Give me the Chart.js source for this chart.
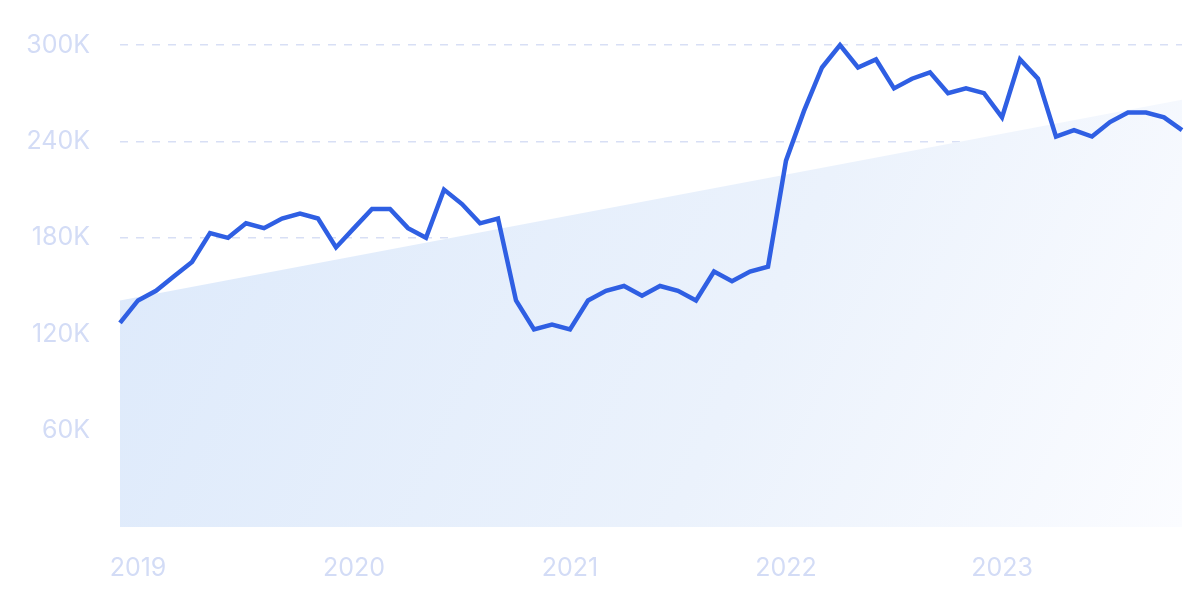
<!DOCTYPE html>
<html lang="en">
<head>
<meta charset="UTF-8">
<style>
  html, body { margin: 0; padding: 0; background: #fff; }
  #wrap { width: 1200px; height: 599px; }
</style>
<script src="https://cdn.jsdelivr.net/npm/chart.js"></script>
</head>
<body>
<div id="wrap"><canvas id="chart"></canvas></div>
<script>
// monthly labels, Dec 2018 .. Nov 2023
const months = ['2018-12'];
for (let y = 2019; y <= 2023; y++) {
  for (let m = 1; m <= 12; m++) {
    if (y === 2023 && m > 11) break;
    months.push(y + '-' + String(m).padStart(2, '0'));
  }
}
const yTicks = [0, 60000, 120000, 180000, 240000, 300000];

const values = [
  127, 141, 147, 156, 165, 183, 180, 189, 186, 192, 195, 192,
  174, 186, 198, 198, 186, 180, 210, 201, 189, 192, 141, 123,
  126, 123, 141, 147, 150, 144, 150, 147, 141, 159, 153, 159,
  162, 228, 259, 286, 300, 286, 291, 273, 279, 283, 270, 273,
  270, 255, 291, 279, 243, 247, 243, 252, 258, 258, 255, 247
].map(v => v * 1000);

// trend line, start and end only
const trend = months.map((m, i) => i === 0 ? 141000 : (i === months.length - 1 ? 266000 : null));

const labelColor = '#d3dcf6';
const ctx = document.getElementById('chart').getContext('2d');

new Chart(ctx, {
  type: 'line',
  data: {
    labels: months,
    datasets: [
      {
        data: values,
        borderColor: '#2f5fe3',
        borderWidth: 4.5,
        pointRadius: 0,
        tension: 0,
        fill: false,
        clip: false,
        order: 0
      },
      {
        data: trend,
        spanGaps: true,
        borderWidth: 0,
        pointRadius: 0,
        fill: 'origin',
        order: 1,
        backgroundColor: function(c) {
          const a = c.chart.chartArea;
          if (!a) return '#e4eefb';
          const g = c.chart.ctx.createLinearGradient(a.left, a.top, a.right, a.bottom);
          g.addColorStop(0, '#dce9fb');
          g.addColorStop(0.6, '#ebf2fc');
          g.addColorStop(1, '#fbfcff');
          return g;
        }
      }
    ]
  },
  options: {
    responsive: true,
    maintainAspectRatio: false,
    animation: false,
    layout: { padding: { top: 4, right: -6, left: 0, bottom: 0 } },
    plugins: { legend: { display: false }, tooltip: { enabled: false } },
    scales: {
      x: {
        grid: { display: false },
        border: { display: false },
        afterFit: s => { s.height = 72; },
        ticks: {
          autoSkip: false,
          maxRotation: 0,
          color: labelColor,
          font: { family: 'Inter', size: 25 },
          padding: 18,
          callback: function(v) {
            const l = this.getLabelForValue(v);
            return l.endsWith('-01') ? l.slice(0, 4) : '';
          }
        }
      },
      y: {
        min: 0,
        max: 300000,
        afterFit: s => { s.width = 120; },
        afterBuildTicks: s => { s.ticks = yTicks.map(v => ({ value: v })); },
        border: { display: false, dash: [8, 8] },
        grid: {
          color: c => c.tick.value === 0 ? 'rgba(0,0,0,0)' : '#d8dff5',
          lineWidth: 1.5,
          drawTicks: false
        },
        ticks: {
          color: labelColor,
          font: { family: 'Inter', size: 25 },
          padding: 30,
          callback: v => v === 0 ? '' : (v / 1000) + 'K'
        }
      }
    }
  }
});
</script>
</body>
</html>
